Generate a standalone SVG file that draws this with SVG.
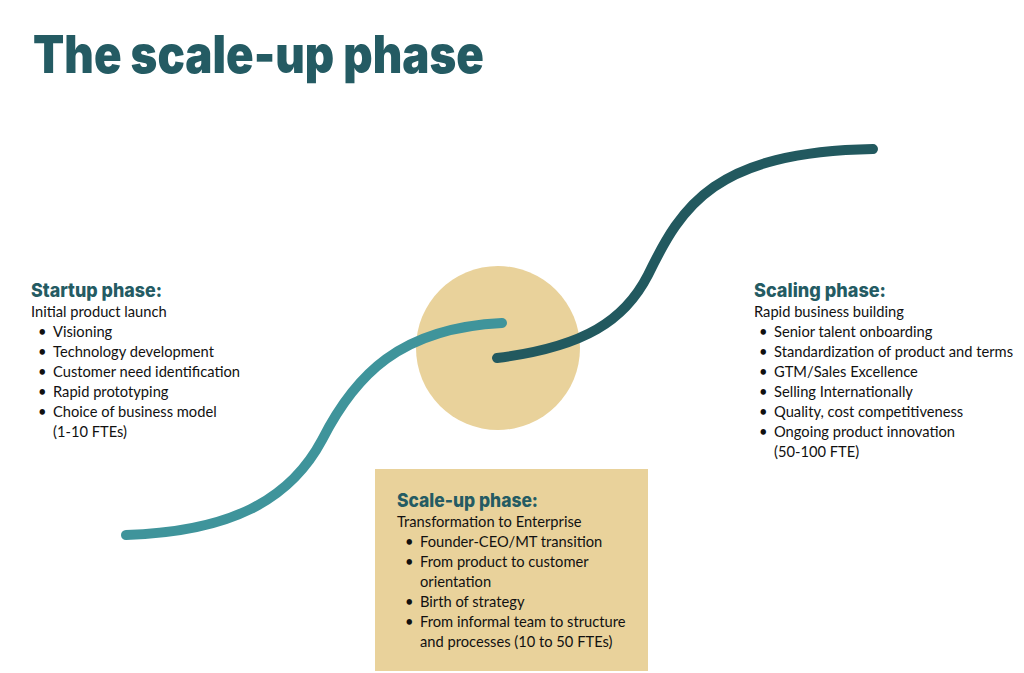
<svg xmlns="http://www.w3.org/2000/svg" width="1024" height="673" viewBox="0 0 1024 673">
<style>
.title{font-family:Inter,Lato,"Liberation Sans",sans-serif;font-weight:900;font-size:52px;fill:#245B63}
.head{font-family:Inter,Lato,"Liberation Sans",sans-serif;font-weight:800;font-size:19px;fill:#245B63}
.body{font-family:Lato,"Open Sans","Liberation Sans",sans-serif;font-size:14.7px;fill:#111}
.curve{fill:none;stroke-width:10;stroke-linecap:round}
</style>
<rect width="1024" height="673" fill="#fff"/>
<text class="title" x="33" y="73" textLength="451" lengthAdjust="spacingAndGlyphs">The scale-up phase</text>
<g id="circle"><circle cx="498" cy="348" r="82" fill="#E9D29B"/></g>
<g id="connectors">
<path class="curve" stroke="#3F949B" d="M126,535 C 230,532 290,500 322,440 C 355,375 400,328 502,323"/>
<path class="curve" stroke="#22595F" d="M497,358 C 585,347 625,320 648,275 C 682,205 715,152 873,149"/>
</g>
<g id="startup">
<text class="head" x="31" y="297" textLength="131" lengthAdjust="spacingAndGlyphs">Startup phase:</text>
<text class="body" x="31" y="317">Initial product launch</text>
<g class="body">
<text x="38" y="337">•</text><text x="53" y="337">Visioning</text>
<text x="38" y="357">•</text><text x="53" y="357">Technology development</text>
<text x="38" y="377">•</text><text x="53" y="377">Customer need identification</text>
<text x="38" y="397">•</text><text x="53" y="397">Rapid prototyping</text>
<text x="38" y="417">•</text><text x="53" y="417">Choice of business model</text>
<text x="53" y="437">(1-10 FTEs)</text>
</g>
</g>
<g id="scaling">
<text class="head" x="754" y="297" textLength="132" lengthAdjust="spacingAndGlyphs">Scaling phase:</text>
<text class="body" x="754" y="317">Rapid business building</text>
<g class="body">
<text x="759" y="337">•</text><text x="774" y="337">Senior talent onboarding</text>
<text x="759" y="357">•</text><text x="774" y="357">Standardization of product and terms</text>
<text x="759" y="377">•</text><text x="774" y="377">GTM/Sales Excellence</text>
<text x="759" y="397">•</text><text x="774" y="397">Selling Internationally</text>
<text x="759" y="417">•</text><text x="774" y="417">Quality, cost competitiveness</text>
<text x="759" y="437">•</text><text x="774" y="437">Ongoing product innovation</text>
<text x="774" y="457">(50-100 FTE)</text>
</g>
</g>
<g id="scaleup">
<rect x="375" y="469" width="273" height="202" fill="#E9D29B"/>
<text class="head" x="397" y="507" textLength="141" lengthAdjust="spacingAndGlyphs">Scale-up phase:</text>
<text class="body" x="397" y="527">Transformation to Enterprise</text>
<g class="body">
<text x="405" y="547">•</text><text x="420" y="547">Founder-CEO/MT transition</text>
<text x="405" y="567">•</text><text x="420" y="567">From product to customer</text>
<text x="420" y="587">orientation</text>
<text x="405" y="607">•</text><text x="420" y="607">Birth of strategy</text>
<text x="405" y="627">•</text><text x="420" y="627">From informal team to structure</text>
<text x="420" y="647">and processes (10 to 50 FTEs)</text>
</g>
</g>
</svg>
